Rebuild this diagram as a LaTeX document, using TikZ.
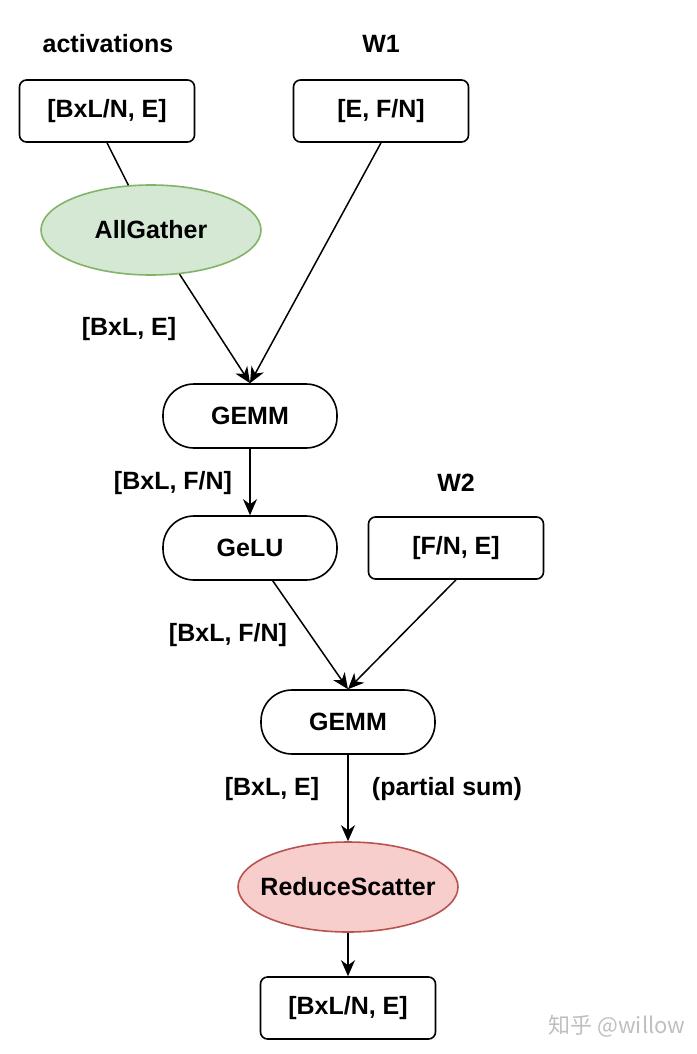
\documentclass[tikz,border=0pt]{standalone}
\usepackage{xcolor}
\usepackage{fontspec}
\setmainfont{Liberation Sans}
\newfontfamily\cjkfont{Noto Sans CJK SC}
\usepackage{tikz}
\usetikzlibrary{arrows.meta, positioning, shapes.geometric}

\definecolor{gatherfill}{HTML}{D5E8D4}
\definecolor{gatherline}{HTML}{82B366}
\definecolor{scatterfill}{HTML}{F8CECC}
\definecolor{scatterline}{HTML}{B85450}

\begin{document}
\begin{tikzpicture}[
    x=1pt, y=-1pt,
    every node/.style={font=\fontsize{25}{29}\selectfont\bfseries},
    box/.style={draw, rounded corners=7pt, line width=1.6pt, minimum width=175pt, minimum height=62pt, inner sep=0pt},
    pill/.style={draw, rounded corners=31pt, line width=1.6pt, minimum width=174pt, minimum height=64pt, inner sep=0pt},
    comm/.style={ellipse, draw, line width=1.6pt, minimum width=220pt, minimum height=90pt, inner sep=0pt},
    arrow/.style={-{Stealth[length=16pt, width=14pt, inset=5pt]}, line width=1.5pt}
]
\useasboundingbox (0,0) rectangle (696,1054);

% Nodes
\node (act) at (108,44) {activations};
\node (w1lbl) at (381,44) {W1};
\node[box] (a1) at (107,111) {[BxL/N, E]};
\node[box] (w1) at (381,111) {[E, F/N]};
\node[comm, fill=gatherfill, draw=gatherline, label=center:AllGather] (ag) at (151,230) {};
\node[pill] (g1) at (250,416) {GEMM};
\node[pill] (gelu) at (250,548) {GeLU};
\node (w2lbl) at (456,483) {W2};
\node[box] (w2) at (456,548) {[F/N, E]};
\node[pill] (g2) at (348,722) {GEMM};
\node[comm, fill=scatterfill, draw=scatterline, label=center:ReduceScatter] (rs) at (348,887) {};
\node[box] (out) at (348,1008) {[BxL/N, E]};

% Edge labels
\node (l1) at (129,329) {[BxL, E]};
\node (l2) at (173,483) {[BxL, F/N]};
\node (l3) at (228,635) {[BxL, F/N]};
\node (l4) at (272,789) {[BxL, E]};
\node (l5) at (447,789) {(partial sum)};

\node[font=\fontsize{22}{26}\selectfont\cjkfont, text=black!25] (mark) at (617,1026) {知乎 @willow};

\draw[line width=1.5pt] (a1.south) -- (ag);
\draw[arrow] (ag) -- (g1.north);
\draw[arrow] (w1.south) -- (g1.north);
\draw[arrow] (g1) -- (gelu);
\draw[arrow] (gelu) -- (g2.north);
\draw[arrow] (w2.south) -- (g2.north);
\draw[arrow] (g2) -- (rs);
\draw[arrow] (rs) -- (out);
\end{tikzpicture}
\end{document}
